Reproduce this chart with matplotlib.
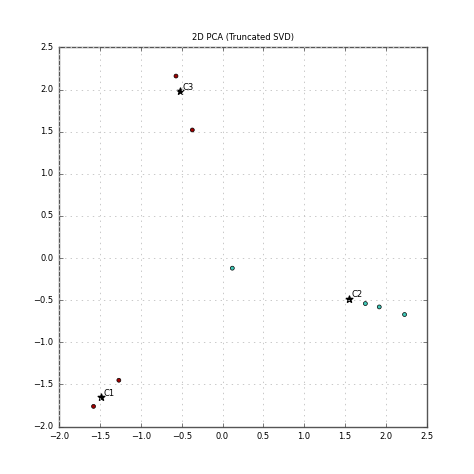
import numpy as np
import matplotlib
matplotlib.use('Agg')
import matplotlib.pyplot as plt

plt.style.use('classic')

# projected samples
xs = [-0.57, -0.37, 0.12, 1.75, 1.92, 2.23, -1.27, -1.58]
ys = [2.16, 1.52, -0.12, -0.54, -0.58, -0.67, -1.45, -1.76]
labels = [1, 1, 0, 0, 0, 0, 1, 1]

# centroids
cx = [-1.49, 1.55, -0.52]
cy = [-1.65, -0.48, 1.98]
cnames = ['C1', 'C2', 'C3']

colors = {0: '#3fc9b8', 1: '#a00000'}

fig = plt.figure(figsize=(4.74, 4.74), dpi=100)
ax = fig.add_subplot(111)
ax.scatter(xs, ys, c=[colors[l] for l in labels], s=8, edgecolors='k', linewidths=0.5)
ax.scatter(cx, cy, marker='*', c='k', s=25, edgecolors='k')
for x, y, n in zip(cx, cy, cnames):
    ax.annotate(n, (x, y), xytext=(2, 1), textcoords='offset points', fontsize=6)

ax.set_xlim(-2.0, 2.5)
ax.set_ylim(-2.0, 2.5)
ax.set_xticks(np.arange(-2.0, 2.51, 0.5))
ax.set_yticks(np.arange(-2.0, 2.51, 0.5))
ax.tick_params(labelsize=6, length=3, color='#444444')
for s in ax.spines.values():
    s.set_color('#555555')
ax.grid(True, color='#c8c8c8', linestyle=':', linewidth=0.7)
ax.set_title('2D PCA (Truncated SVD)', fontsize=6)

fig.savefig('out.png', dpi=100)
